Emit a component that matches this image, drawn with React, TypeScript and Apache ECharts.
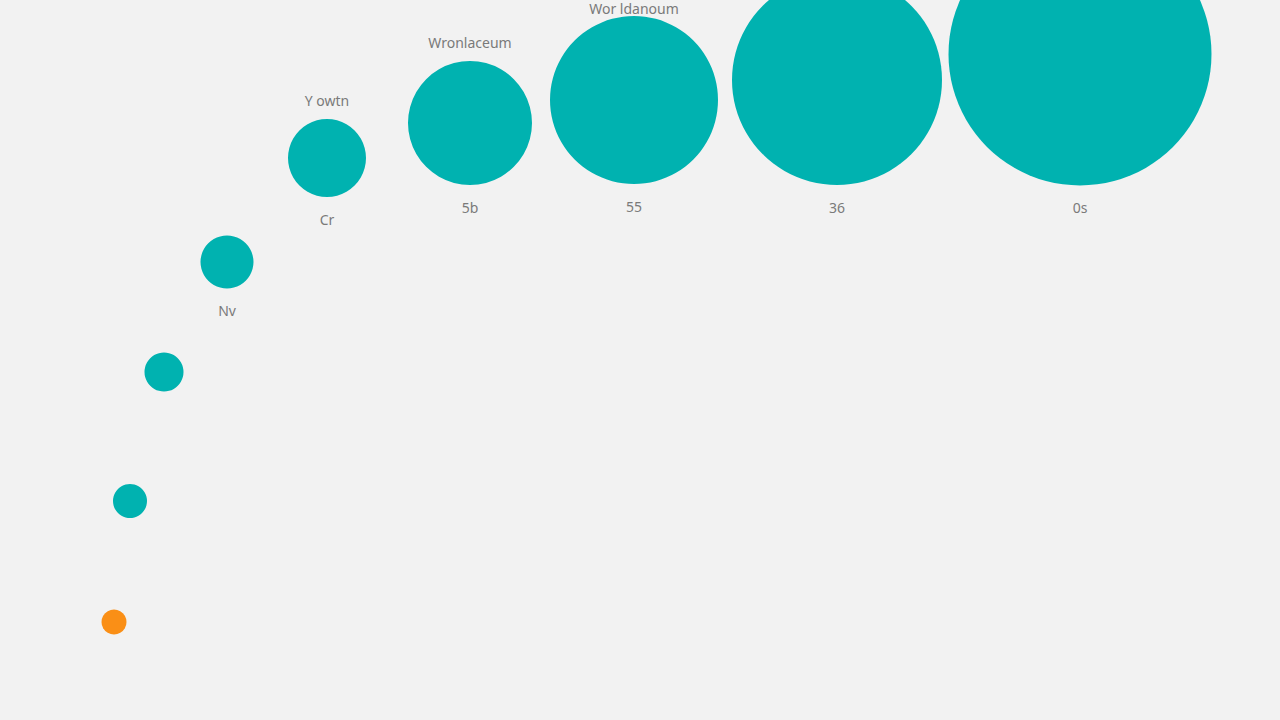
import React, { useEffect, useRef } from "react";
import * as echarts from "echarts";

const xValues = [1.14, 1.3, 1.64, 2.27, 3.27, 4.7, 6.34, 8.37, 10.8];
const yValues = [0.98, 2.19, 3.48, 4.58, 5.62, 5.97, 6.2, 6.4, 6.66];
const sizes = [25, 34, 39, 53, 78, 124, 168, 210, 263];
const topLabels = ["", "", "", "", "Y owtn", "Wronlaceum", "Wor ldanoum", "", ""];
const bottomLabels = ["", "", "", "Nv", "Cr", "5b", "55", "36", "0s"];
const highlightIndex = 0;
const edgeLabelIndex = 6;

const TEAL = "#00b2b0";
const ORANGE = "#fa8f16";
const BG = "#f2f2f2";
const LABEL = "#7a7a7a";

export default function App() {
  const ref = useRef<HTMLDivElement>(null);

  useEffect(() => {
    if (!ref.current) return;
    const chart = echarts.init(ref.current, undefined, { renderer: "svg" });
    const data = xValues.map((x, i) => ({
      value: [x, yValues[i]],
      symbolSize: sizes[i],
      itemStyle: { color: i === highlightIndex ? ORANGE : TEAL, opacity: 1 },
    }));
    const labelData = xValues.map((x, i) => ({
      value: [x, yValues[i]],
      symbolSize: sizes[i],
      label: i === edgeLabelIndex ? { distance: 1 } : undefined,
    }));
    chart.setOption({
      animation: false,
      backgroundColor: BG,
      grid: { left: 0, right: 0, top: 0, bottom: 0 },
      xAxis: { type: "value", min: 0, max: 12.8, show: false },
      yAxis: { type: "value", min: 0, max: 7.2, show: false },
      series: [
        {
          type: "scatter",
          data,
          clip: false,
          itemStyle: { opacity: 1 },
          label: {
            show: true,
            position: "bottom",
            distance: 15,
            color: LABEL,
            fontSize: 14,
            fontFamily: "Noto Sans",
            formatter: (p: any) => bottomLabels[p.dataIndex],
          },
        },
        {
          type: "scatter",
          data: labelData,
          clip: false,
          silent: true,
          itemStyle: { color: "rgba(0,0,0,0)", opacity: 1 },
          label: {
            show: true,
            position: "top",
            distance: 12,
            color: LABEL,
            fontSize: 14,
            fontFamily: "Noto Sans",
            formatter: (p: any) => topLabels[p.dataIndex],
          },
        },
      ],
    });
    return () => chart.dispose();
  }, []);

  return (
    <div
      ref={ref}
      style={{ position: "fixed", left: 0, top: 0, width: "100vw", height: "100vh", background: BG }}
    />
  );
}
